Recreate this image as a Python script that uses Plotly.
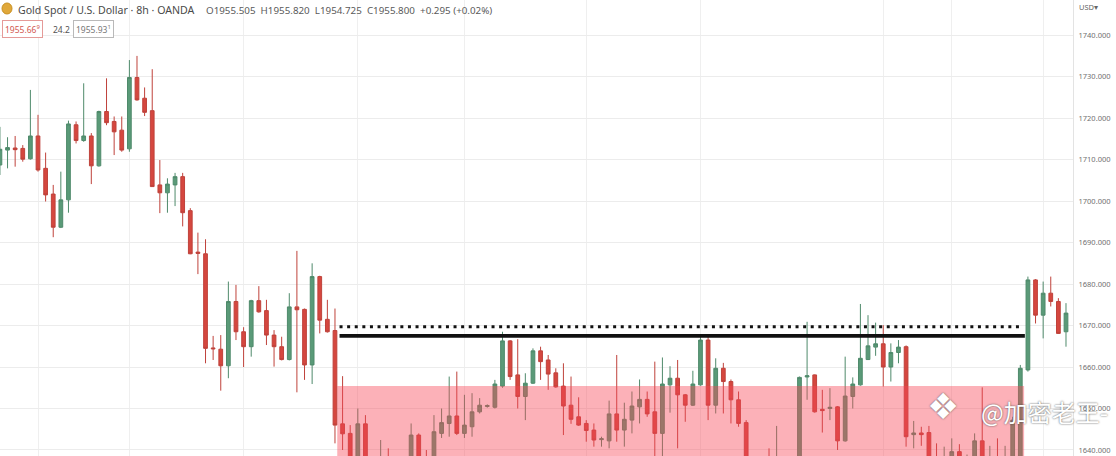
import plotly.graph_objects as go

# 8h candles, gold spot
opens = [1708.7, 1712.3, 1712.8, 1712.7, 1710.2, 1715.7, 1707.9, 1701.7, 1693.7, 1700.3,
         1718.4, 1714.6, 1715.7, 1708.5, 1721.6, 1719.2, 1717.1, 1712.6, 1729.8, 1724.8,
         1721.8, 1703.9, 1702.0, 1703.9, 1705.9, 1697.7, 1687.7, 1687.3, 1664.6, 1664.3,
         1660.3, 1675.8, 1668.5, 1664.9, 1676.0, 1673.6, 1667.7, 1664.9, 1661.8, 1674.5,
         1673.9, 1660.5, 1681.8, 1671.5, 1668.8, 1646.3, 1644.0, 1636.0, 1646.3, 1636.0,
         1632.0, 1635.5, 1633.0, 1630.0, 1635.0, 1643.6, 1635.0, 1633.0, 1644.0, 1646.4,
         1648.2, 1644.0, 1645.6, 1649.2, 1650.5, 1650.3, 1655.4, 1666.3, 1658.1, 1652.9,
         1656.1, 1663.9, 1661.7, 1658.6, 1655.4, 1650.8, 1648.0, 1646.4, 1644.8, 1642.5,
         1642.2, 1648.7, 1644.8, 1647.2, 1650.4, 1652.2, 1649.2, 1644.0, 1655.7, 1657.3,
         1653.3, 1650.8, 1655.7, 1666.5, 1650.8, 1659.7, 1656.5, 1652.1, 1646.6, 1636.0,
         1631.0, 1634.0, 1632.0, 1636.0, 1631.0, 1634.0, 1657.6, 1658.1, 1649.8, 1650.0,
         1650.4, 1642.2, 1652.9, 1655.7, 1661.8, 1664.8, 1665.6, 1660.0, 1663.5, 1664.9,
         1643.7, 1644.1, 1644.2, 1636.0, 1633.0, 1637.0, 1639.6, 1634.0, 1636.0, 1642.2,
         1635.0, 1637.0, 1634.0, 1638.0, 1637.0, 1659.3, 1681.0, 1672.5, 1677.8, 1675.8,
         1668.5]
highs = [1717.9, 1715.4, 1715.7, 1713.5, 1726.8, 1720.8, 1711.7, 1703.9, 1707.1, 1719.4,
         1719.2, 1728.4, 1716.4, 1721.8, 1729.6, 1720.4, 1720.4, 1734.0, 1735.0, 1727.4,
         1731.8, 1709.9, 1705.5, 1706.8, 1706.8, 1698.3, 1692.4, 1690.8, 1667.5, 1667.7,
         1680.6, 1679.8, 1669.6, 1676.2, 1679.5, 1676.2, 1668.9, 1667.3, 1677.8, 1688.0,
         1674.1, 1685.0, 1682.0, 1676.2, 1674.1, 1657.8, 1646.0, 1650.0, 1648.4, 1637.5,
         1642.4, 1640.4, 1637.0, 1637.5, 1646.4, 1644.0, 1640.0, 1648.4, 1650.0, 1657.7,
         1658.9, 1653.3, 1653.7, 1652.5, 1651.0, 1656.9, 1668.5, 1666.5, 1666.7, 1658.5,
         1664.5, 1664.9, 1662.9, 1659.7, 1660.9, 1657.7, 1652.7, 1647.2, 1646.4, 1643.2,
         1651.9, 1662.9, 1651.4, 1654.1, 1657.0, 1654.1, 1661.3, 1662.3, 1660.2, 1661.7,
         1653.5, 1659.1, 1667.3, 1667.7, 1662.1, 1661.0, 1657.0, 1654.1, 1647.2, 1638.0,
         1637.5, 1640.4, 1645.8, 1638.0, 1637.0, 1657.7, 1670.9, 1658.2, 1654.5, 1654.9,
         1650.6, 1662.5, 1657.5, 1675.2, 1672.5, 1670.7, 1670.1, 1665.7, 1666.5, 1665.2,
         1647.0, 1645.6, 1645.8, 1641.6, 1640.8, 1642.8, 1641.4, 1638.9, 1644.0, 1655.1,
         1641.0, 1642.8, 1641.0, 1648.0, 1660.5, 1681.8, 1681.2, 1680.6, 1681.8, 1676.6,
         1675.4]
lows = [1706.3, 1707.9, 1708.3, 1709.5, 1710.0, 1707.1, 1699.9, 1691.3, 1693.5, 1697.2,
        1713.9, 1714.3, 1704.1, 1708.3, 1718.3, 1711.1, 1711.9, 1711.9, 1724.2, 1720.5,
        1703.4, 1697.1, 1697.2, 1698.8, 1693.9, 1687.2, 1682.4, 1660.9, 1661.7, 1654.3,
        1657.3, 1666.5, 1660.0, 1662.5, 1673.1, 1665.3, 1660.1, 1661.6, 1661.6, 1653.9,
        1656.9, 1655.9, 1668.1, 1668.3, 1641.6, 1640.0, 1632.0, 1633.0, 1631.0, 1628.0,
        1629.0, 1630.0, 1627.0, 1628.0, 1633.0, 1631.0, 1630.0, 1632.0, 1642.9, 1643.2,
        1643.6, 1642.9, 1643.2, 1648.8, 1650.2, 1650.0, 1655.0, 1656.9, 1650.0, 1647.2,
        1655.9, 1656.9, 1654.5, 1655.0, 1643.6, 1646.3, 1645.8, 1642.0, 1640.8, 1640.8,
        1640.4, 1642.0, 1640.8, 1644.0, 1646.4, 1648.0, 1637.0, 1637.0, 1649.0, 1640.4,
        1646.8, 1650.6, 1655.5, 1647.2, 1648.8, 1648.8, 1646.4, 1645.6, 1632.0, 1629.0,
        1627.0, 1630.0, 1630.0, 1629.0, 1628.0, 1632.0, 1652.1, 1649.0, 1644.2, 1647.2,
        1640.0, 1642.0, 1650.0, 1655.5, 1661.7, 1662.7, 1655.3, 1656.5, 1660.9, 1640.8,
        1640.4, 1641.0, 1633.0, 1630.0, 1629.0, 1635.0, 1632.0, 1630.0, 1634.0, 1632.0,
        1631.0, 1633.0, 1630.0, 1636.0, 1635.0, 1658.9, 1670.5, 1666.9, 1674.6, 1668.0,
        1664.9]
closes = [1712.5, 1712.9, 1712.4, 1710.1, 1715.7, 1707.5, 1701.5, 1693.7, 1700.3, 1718.6,
          1714.6, 1715.7, 1708.5, 1721.6, 1718.9, 1716.7, 1712.3, 1729.8, 1724.4, 1721.4,
          1703.5, 1702.0, 1704.1, 1705.9, 1697.2, 1687.3, 1687.4, 1664.5, 1664.4, 1660.3,
          1675.8, 1668.5, 1664.9, 1676.0, 1673.3, 1667.7, 1664.9, 1661.8, 1674.5, 1673.8,
          1660.5, 1681.8, 1671.3, 1668.5, 1646.0, 1643.9, 1636.0, 1646.3, 1636.0, 1632.0,
          1635.5, 1633.0, 1630.0, 1635.0, 1643.6, 1635.0, 1633.0, 1644.4, 1646.6, 1648.2,
          1644.0, 1646.0, 1649.2, 1650.8, 1650.7, 1655.9, 1666.3, 1657.7, 1652.9, 1656.1,
          1663.9, 1661.3, 1658.3, 1655.2, 1650.6, 1647.4, 1646.0, 1644.7, 1642.4, 1642.7,
          1648.7, 1644.8, 1647.4, 1650.6, 1652.2, 1648.7, 1644.0, 1655.9, 1657.3, 1653.3,
          1650.8, 1655.9, 1666.5, 1650.8, 1659.7, 1656.5, 1652.1, 1646.4, 1636.0, 1631.0,
          1634.0, 1632.0, 1636.0, 1631.0, 1634.0, 1657.5, 1657.9, 1649.2, 1649.5, 1650.3,
          1642.2, 1653.0, 1655.9, 1662.1, 1665.1, 1665.6, 1660.0, 1663.5, 1664.8, 1643.2,
          1644.1, 1643.7, 1636.0, 1633.0, 1637.0, 1639.6, 1634.0, 1636.0, 1642.2, 1635.0,
          1637.0, 1634.0, 1638.0, 1647.2, 1659.7, 1681.0, 1672.5, 1677.8, 1675.8, 1668.1,
          1673.0]
bars = list(range(len(opens)))

price_ticks = [1640, 1650, 1660, 1670, 1680, 1690, 1700, 1710, 1720, 1730, 1740]
time_grid = [5, 17, 32, 47, 61, 77, 92, 116, 125, 137]   # session separators

# drawn levels
dotted_level = 1669.7
resistance = 1667.5
zone_top = 1655.4
zone_start, zone_end = 44.3, 134.5
line_start, line_end = 44.6, 134.6

GREEN = "#5a9a78"
RED = "#d5473f"

fig = go.Figure()
fig.add_trace(go.Candlestick(
    x=bars, open=opens, high=highs, low=lows, close=closes,
    increasing=dict(fillcolor=GREEN, line=dict(color="#4f8a6b", width=1)),
    decreasing=dict(fillcolor=RED, line=dict(color="#bf423b", width=1)),
    whiskerwidth=0, showlegend=False, hoverinfo="skip",
))

# supply zone and the two horizontal lines
fig.add_shape(type="rect", x0=zone_start, x1=zone_end, y0=1600, y1=zone_top,
              fillcolor="rgba(248,70,85,0.42)", line_width=0, layer="above")
fig.add_shape(type="line", x0=line_start, x1=line_end - 0.6, y0=dotted_level, y1=dotted_level,
              line=dict(color="#111", width=3, dash="3px,4.6px"))
fig.add_shape(type="line", x0=line_start, x1=line_end, y0=resistance, y1=resistance,
              line=dict(color="#111", width=3.6))

# header
fig.add_shape(type="circle", xref="paper", yref="paper",
              x0=2 / 1073, x1=12 / 1073, y0=1 - 14 / 456, y1=1 - 3 / 456,
              fillcolor="#e0a83a", line=dict(color="#c99022", width=1))
fig.add_annotation(x=16 / 1073, y=1 - 1 / 456, xref="paper", yref="paper", xanchor="left", yanchor="top",
                   text="Gold Spot / U.S. Dollar · 8h · OANDA", showarrow=False,
                   font=dict(family="Noto Sans", size=10.6, color="#4a4a4a"))
fig.add_annotation(x=204 / 1073, y=1 - 2 / 456, xref="paper", yref="paper", xanchor="left", yanchor="top",
                   text="O1955.505  H1955.820  L1954.725  C1955.800  +0.295 (+0.02%)", showarrow=False,
                   font=dict(family="Noto Sans", size=9.8, color="#5a5a5a"))
fig.add_annotation(x=2 / 1073, y=1 - 20 / 456, xref="paper", yref="paper", xanchor="left", yanchor="top",
                   text="1955.66<sup>9</sup>", showarrow=False, bordercolor="#e59a98", borderwidth=1,
                   borderpad=2, bgcolor="white", font=dict(family="Noto Sans", size=8.5, color="#d2574f"))
fig.add_annotation(x=51 / 1073, y=1 - 22 / 456, xref="paper", yref="paper", xanchor="left", yanchor="top",
                   text="24.2", showarrow=False, font=dict(family="Noto Sans", size=8.5, color="#555"))
fig.add_annotation(x=73 / 1073, y=1 - 20 / 456, xref="paper", yref="paper", xanchor="left", yanchor="top",
                   text="1955.93<sup>1</sup>", showarrow=False, bordercolor="#b9b9b9", borderwidth=1,
                   borderpad=2, bgcolor="white", font=dict(family="Noto Sans", size=8.5, color="#777"))
fig.add_annotation(x=1.004, y=1, xref="paper", yref="paper", xanchor="left", yanchor="top",
                   text="USD▾", showarrow=False, font=dict(family="Noto Sans", size=7.5, color="#666"))

# watermark
fig.add_annotation(x=961 / 1073, y=27 / 456, xref="paper", yref="paper",
                   text="❖", showarrow=False,
                   font=dict(family="DejaVu Sans", size=36, color="white", shadow="0px 0px 2px #555"))
fig.add_annotation(x=979 / 1073, y=25 / 456, xref="paper", yref="paper", xanchor="left",
                   text="@加密老王-", showarrow=False,
                   font=dict(family="Noto Sans CJK SC", size=24, color="white",
                             shadow="0px 0px 2px #444"))

fig.update_layout(
    width=1116, height=456,
    margin=dict(l=0, r=43, t=0, b=0),
    paper_bgcolor="white", plot_bgcolor="white",
    xaxis=dict(range=[0.01, 140.92], rangeslider=dict(visible=False),
               tickvals=time_grid, showticklabels=False, ticks="",
               showgrid=True, gridcolor="#efefef", gridwidth=1, zeroline=False),
    yaxis=dict(range=[1638.55, 1748.48], side="right", tickvals=price_ticks,
               tickformat=".3f", ticks="", ticklabelstandoff=3,
               tickfont=dict(family="Noto Sans", size=7.5, color="#707070"),
               showgrid=True, gridcolor="#ececec", gridwidth=1, zeroline=False,
               showline=True, linecolor="#e3e3e3", linewidth=1),
)

# the page's default 8px body margin would shift the chart
fig.write_html("out.html", config={"displayModeBar": False},
               post_script="document.body.style.margin='0px';")
